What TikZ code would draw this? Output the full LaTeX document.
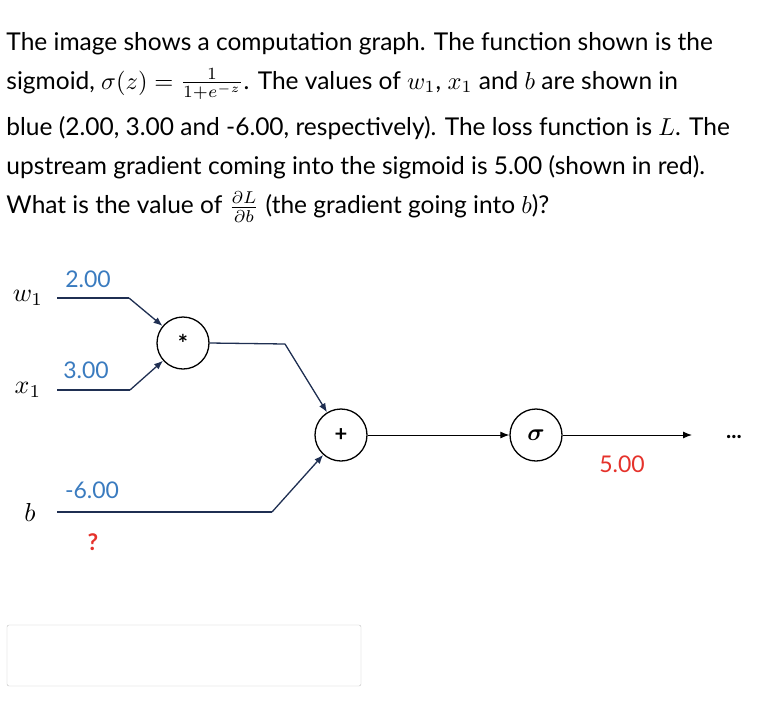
\documentclass[tikz,border=0pt]{standalone}
\usepackage{fontspec}
\usepackage{amsmath,bm}
\setmainfont{Lato}
\usetikzlibrary{arrows.meta}
\definecolor{vblue}{HTML}{3A7BBF}
\definecolor{vred}{HTML}{E5322B}
\definecolor{navy}{HTML}{1F2F52}
\begin{document}
\begin{tikzpicture}[x=1pt,y=-1pt,
  txt/.style={anchor=west,inner sep=0pt,scale=2.45},
  op/.style={circle,draw,line width=1.3pt,minimum size=52pt,inner sep=0pt},
  wire/.style={navy,line width=1.3pt},
  arr/.style={navy,line width=1.3pt,-{Latex[length=9pt,width=7pt]}},
  val/.style={inner sep=0pt,scale=2.3,vblue},
  var/.style={inner sep=0pt,scale=2.6}]
\useasboundingbox (0,0) rectangle (782,716);
\node[txt] (l1) at (6,44) {The image shows a computation graph. The function shown is the};
\node[txt] (l2) at (6,84) {sigmoid, $\sigma(z)=\frac{1}{1+e^{-z}}$. The values of $w_1$, $x_1$ and $b$ are shown in};
\node[txt] (l3) at (6,128) {blue (2.00, 3.00 and -6.00, respectively). The loss function is $L$. The};
\node[txt] (l4) at (6,167) {upstream gradient coming into the sigmoid is 5.00 (shown in red).};
\node[txt] (l5) at (6,207) {What is the value of $\frac{\partial L}{\partial b}$ (the gradient going into $b$)?};

\node[op] (mul) at (183,343) {\scalebox{2.4}{\bfseries *}};
\node[op] (add) at (341,435) {\scalebox{2.2}{\bfseries +}};
\node[op] (sig) at (536,435) {\scalebox{2.4}{$\bm{\sigma}$}};
\node[var] (w) at (28,298) {$w_1$};
\node[var] (x) at (28,390) {$x_1$};
\node[var] (b) at (30,512) {$b$};
\coordinate (w0) at (57,298); \coordinate (w1) at (129,298);
\coordinate (x0) at (57,390); \coordinate (x1) at (130,390);
\coordinate (b0) at (57,512); \coordinate (b1) at (272,512);
\coordinate (m1) at (285,344);
\draw[wire] (w0) -- (w1);
\draw[arr] (w1) -- (mul);
\draw[wire] (x0) -- (x1);
\draw[arr] (x1) -- (mul);
\draw[wire] (mul.east) -- (m1);
\draw[arr] (m1) -- (add);
\draw[wire] (b0) -- (b1);
\draw[arr] (b1) -- (add);
\draw[arr,black,line width=1pt] (add) -- (sig);
\coordinate (out) at (692,435);
\draw[arr,black,line width=1pt] (sig) -- (out);
\node[inner sep=0pt,scale=2.2] (dots) at (734,437) {\bfseries ...};
\node[val] (v1) at (88,279) {2.00};
\node[val] (v2) at (86,370) {3.00};
\node[val] (v3) at (92,490) {-6.00};
\node[val,vred] (q) at (93,542) {\bfseries ?};
\node[val,vred] (g) at (622,464) {5.00};
\draw[gray!50,rounded corners=2pt] (7,625) rectangle (361,686);
\end{tikzpicture}
\end{document}
